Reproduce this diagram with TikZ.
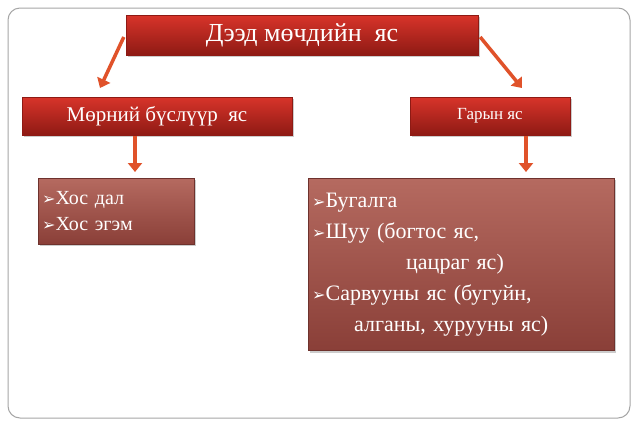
\documentclass[tikz,border=0pt]{standalone}
\usepackage{fontspec}
\setmainfont{Liberation Serif}
\newfontfamily\symf{DejaVu Sans}
\usetikzlibrary{arrows.meta,shadows}
\definecolor{redA}{HTML}{D8342A}
\definecolor{redB}{HTML}{8E1A14}
\definecolor{brA}{HTML}{B56A60}
\definecolor{brB}{HTML}{8A3F38}
\definecolor{arr}{HTML}{E0522A}
\tikzset{
 hbox/.style={draw=redB, top color=redA, bottom color=redB, text=white, drop shadow={opacity=0.4}, minimum height=38pt, inner sep=0pt},
 lbox/.style={draw=brB!80!black, top color=brA, bottom color=brB, text=white, drop shadow={opacity=0.4}, anchor=north west, align=left, inner sep=4pt},
 conn/.style={arr, line width=3.5pt, -{Triangle[length=9pt,width=14pt]}},
}
\newcommand{\blt}{{\symf\fontsize{16}{16}\selectfont ➢}}
\begin{document}
\begin{tikzpicture}[x=1pt,y=-1pt]
\useasboundingbox (0,0) rectangle (638,429);
\fill[white] (0,0) rectangle (638,429);
\draw[gray!70, line width=1pt, rounded corners=12pt] (8,8) rectangle (630,418);
\node[hbox, minimum width=352pt, minimum height=40pt, font=\fontsize{26}{28}\selectfont] (top) at (302,35) {Дээд мөчдийн\ \ яс};
\node[hbox, minimum width=270pt, font=\fontsize{21}{24}\selectfont] (left) at (157,116) {Мөрний бүслүүр\ \ яс};
\node[hbox, minimum width=160pt, font=\fontsize{17}{20}\selectfont] (right) at (490,116) {Гарын яс};
\node[lbox, minimum width=156pt, minimum height=66pt, font=\fontsize{20}{26}\selectfont, text width=148pt] (lb) at (38,178) {\blt Хос дал\\\blt Хос эгэм};
\node[lbox, minimum width=306pt, minimum height=172pt, font=\fontsize{22}{31}\selectfont, text width=298pt] (rb) at (308,178) {\blt Бугалга\\\blt Шуу (богтос яс,\\\hspace*{94pt}цацраг яс)\\\blt Сарвууны яс (бугуйн,\\\hspace*{42pt}алганы, хурууны яс)};
\draw[conn] (top.west) ++(-2,2) coordinate (t1) -- (100,88);
\draw[conn] (top.east) ++(2,2) coordinate (t2) -- (522,88);
\draw[conn] (135,136) -- (135,172);
\draw[conn] (526,136) -- (526,172);
\end{tikzpicture}
\end{document}
